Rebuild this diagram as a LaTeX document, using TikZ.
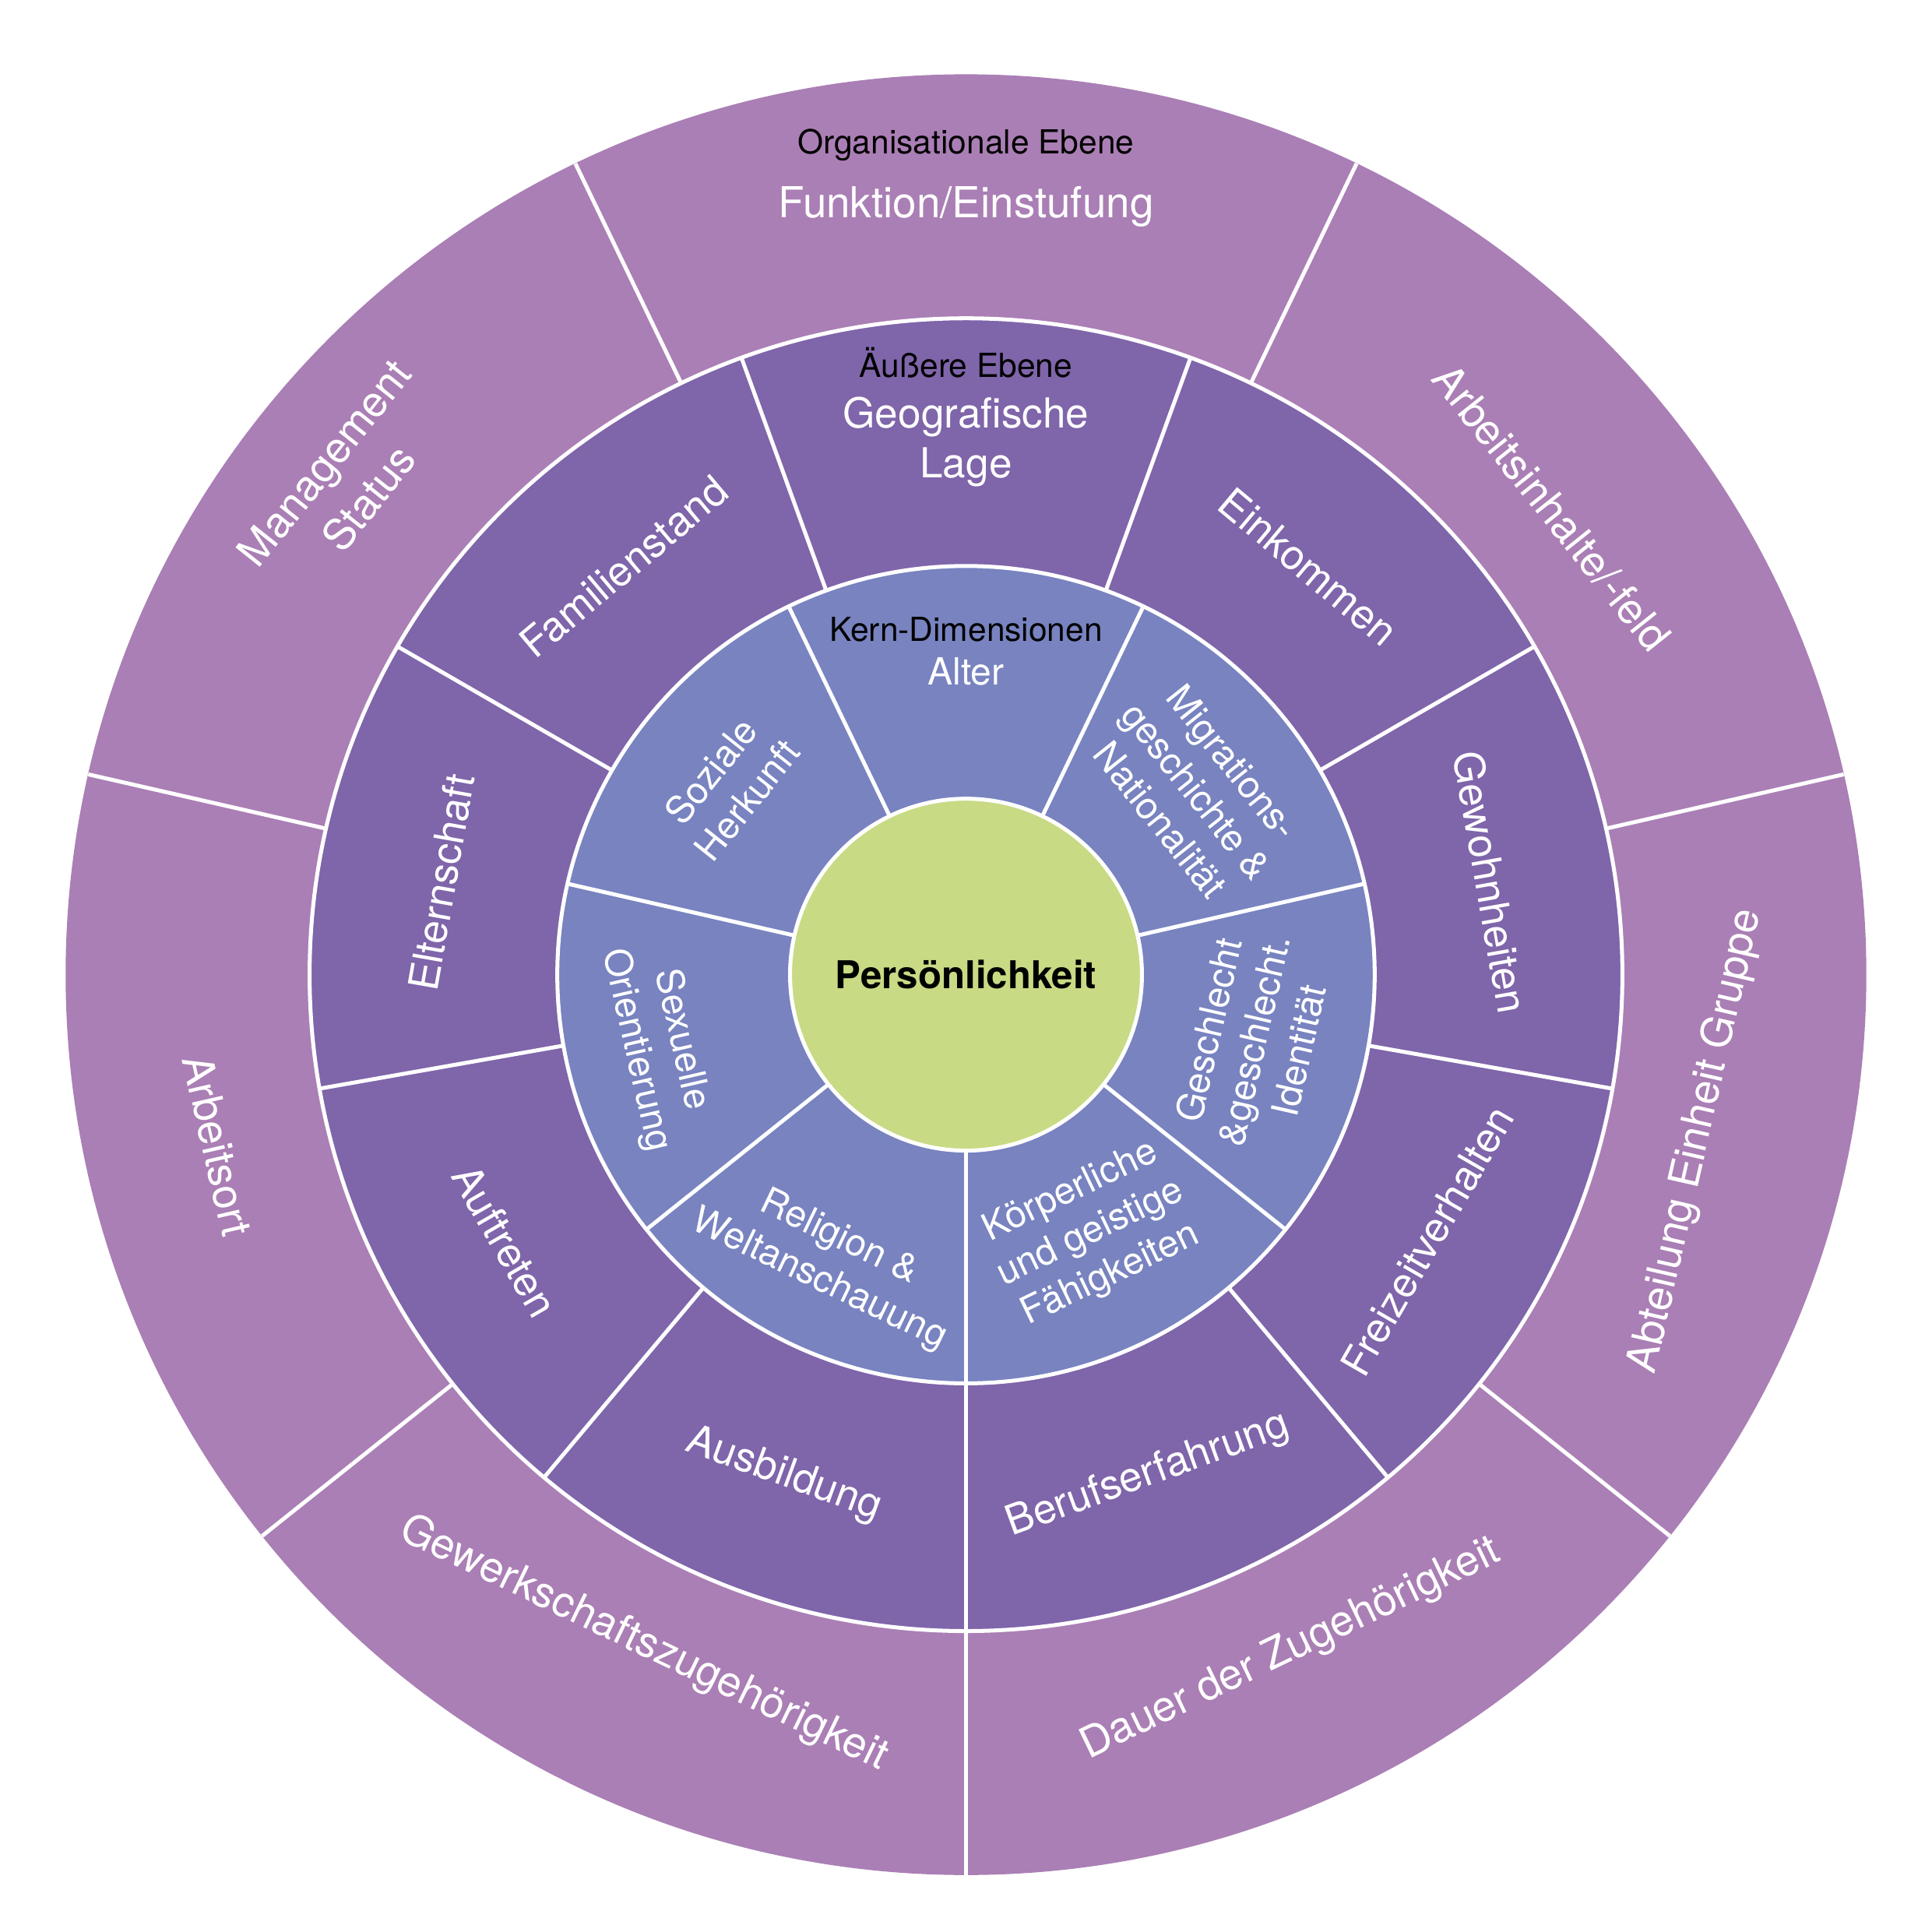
\documentclass[tikz,border=0pt]{standalone}
\usepackage{fontspec}
\setmainfont{TeX Gyre Heros}
\definecolor{outerc}{RGB}{170,127,181}
\definecolor{midc}{RGB}{127,101,170}
\definecolor{innerc}{RGB}{120,131,192}
\definecolor{corec}{RGB}{200,218,132}
\begin{document}
\begin{tikzpicture}[x=0.01cm,y=0.01cm,
  sep/.style={white,line width=0.9pt},
  olab/.style={white,align=center,font=\fontsize{9.8}{12}\selectfont},
  mlab/.style={white,align=center,font=\fontsize{9.5}{11.5}\selectfont},
  ilab/.style={white,align=center,font=\fontsize{8.6}{10.6}\selectfont},
  tlab/.style={black,align=center,font=\fontsize{7.6}{9}\selectfont}]
\useasboundingbox (-780,-773) rectangle (780,787);
\fill[outerc] (0,0) circle (727);
\fill[midc] (0,0) circle (530);
\fill[innerc] (0,0) circle (330);
\draw[sep] (0,0) circle (530);
\draw[sep] (0,0) circle (330);
\foreach \a in {-90,-38.571,12.857,64.286,115.714,167.143,218.571}{
  \draw[sep] (\a:530) -- (\a:727);
  \draw[sep] (\a:142) -- (\a:330);}
\foreach \a in {-90,-50,-10,30,70,110,150,190,230}{
  \draw[sep] (\a:330) -- (\a:530);}
\node[circle,fill=corec,draw=white,line width=0.9pt,minimum size=2.84cm,inner sep=0pt] (core) at (0,0) {};
\node[font=\bfseries\fontsize{8.8}{10}\selectfont] (pers) at (0,0) {Persönlichkeit};
% outer
\node[tlab] (oe) at (90:670) {Organisationale Ebene};
\node[olab] (o1) at (90:620) {Funktion/Einstufung};
\node[olab,rotate=-51.43] (o2) at (38.57:605) {Arbeitsinhalte/-feld};
\node[olab,rotate=77.14] (o3) at (-12.86:605) {Abteilung Einheit Gruppe};
\node[olab,rotate=25.71] (o4) at (-64.29:605) {Dauer der Zugehörigkeit};
\node[olab,rotate=-25.71] (o5) at (-115.71:600) {Gewerkschaftszugehörigkeit};
\node[olab,rotate=-77.14] (o6) at (192.86:620) {Arbeitsort};
\node[olab,rotate=51.43,font=\fontsize{9.8}{13}\selectfont] (o7) at (141.43:640) {Management\\Status};
% middle
\node[tlab] (ae) at (90:494) {Äußere Ebene};
\node[mlab] (m1) at (90:430) {Geografische\\Lage};
\node[mlab,rotate=-40] (m2) at (50:430) {Einkommen};
\node[mlab,rotate=-80] (m3) at (10:430) {Gewohnheiten};
\node[mlab,rotate=60] (m4) at (-30:430) {Freizeitverhalten};
\node[mlab,rotate=20] (m5) at (-70:430) {Berufserfahrung};
\node[mlab,rotate=-20] (m6) at (-110:430) {Ausbildung};
\node[mlab,rotate=-60] (m7) at (-150:430) {Auftreten};
\node[mlab,rotate=80] (m8) at (170:430) {Elternschaft};
\node[mlab,rotate=40] (m9) at (130:430) {Familienstand};
% inner
\node[tlab] (ke) at (90:279) {Kern-Dimensionen};
\node[ilab] (i1) at (90:245) {Alter};
\node[ilab,rotate=-51.43] (i2) at (38.57:238) {Migrations-\\geschichte \&\\Nationalität};
\node[ilab,rotate=77.14] (i3) at (-12.86:238) {Geschlecht\\\&geschlecht.\\Identität};
\node[ilab,rotate=25.71] (i4) at (-64.29:232) {Körperliche\\und geistige\\Fähigkeiten};
\node[ilab,rotate=-25.71] (i5) at (-115.71:255) {Religion \&\\Weltanschauung};
\node[ilab,rotate=-77.14] (i6) at (192.86:255) {Sexuelle\\Orientierung};
\node[ilab,rotate=51.43] (i7) at (141.43:245) {Soziale\\Herkunft};
\end{tikzpicture}
\end{document}
